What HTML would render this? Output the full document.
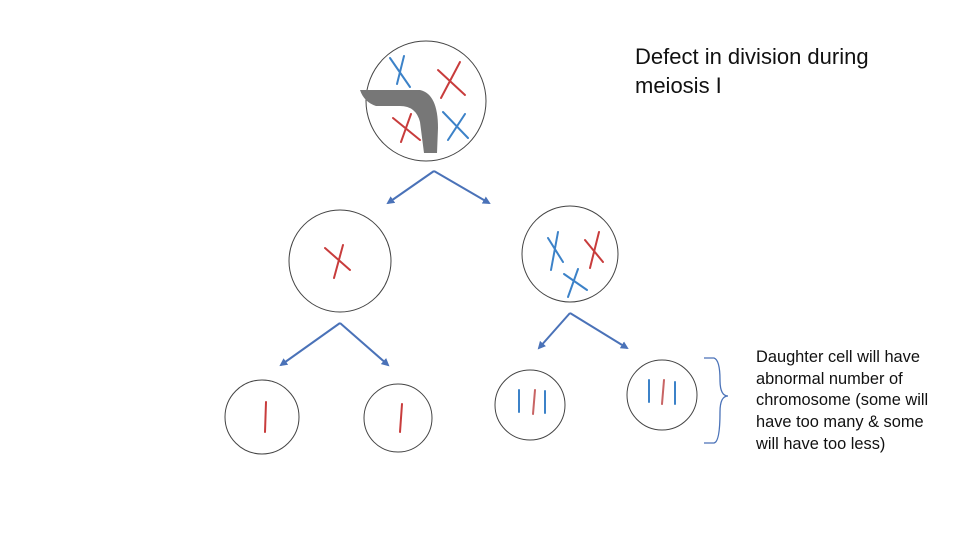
<!DOCTYPE html>
<html><head><style>
body{margin:0;background:#fff;}
.t{position:absolute;font-family:"Liberation Sans",sans-serif;color:#111;}
</style></head><body>
<div style="position:relative;width:960px;height:540px;overflow:hidden;">
<svg width="960" height="540" style="position:absolute;left:0;top:0">
<defs><marker id="a" markerWidth="8" markerHeight="8" refX="6" refY="4" orient="auto" markerUnits="userSpaceOnUse"><path d="M0,0 L8,4 L0,8 Z" fill="#4a72b8"/></marker></defs>
<g fill="none" stroke="#444" stroke-width="1">
<circle cx="426" cy="101" r="60"/>
<circle cx="340" cy="261" r="51"/>
<circle cx="570" cy="254" r="48"/>
<circle cx="262" cy="417" r="37"/>
<circle cx="398" cy="418" r="34"/>
<circle cx="530" cy="405" r="35"/>
<circle cx="662" cy="395" r="35"/>
</g>
<g stroke="#4a72b8" stroke-width="2" fill="none">
<path d="M434,171 L388,203" marker-end="url(#a)"/>
<path d="M434,171 L489,203" marker-end="url(#a)"/>
<path d="M340,323 L281,365" marker-end="url(#a)"/>
<path d="M340,323 L388,365" marker-end="url(#a)"/>
<path d="M570,313 L539,348" marker-end="url(#a)"/>
<path d="M570,313 L627,348" marker-end="url(#a)"/>
</g>
<g stroke-width="2" fill="none" stroke-linecap="round">
<path d="M390,58 L410,87 M404,56 L397,84" stroke="#3c82c8"/>
<path d="M438,70 L465,95 M460,62 L441,98" stroke="#c83c3c"/>
<path d="M393,118 L420,140 M411,114 L401,142" stroke="#c83c3c"/>
<path d="M443,112 L468,138 M465,114 L448,140" stroke="#3c82c8"/>
<path d="M325,248 L350,270 M343,245 L334,278" stroke="#c83c3c"/>
<path d="M548,238 L563,262 M558,232 L551,270" stroke="#3c82c8"/>
<path d="M585,240 L603,262 M599,232 L590,268" stroke="#c83c3c"/>
<path d="M564,274 L587,290 M578,269 L568,297" stroke="#3c82c8"/>
<path d="M266,402 L265,432" stroke="#c83c3c"/>
<path d="M402,404 L400,432" stroke="#c83c3c"/>
<path d="M519,390 L519,412 M545,391 L545,413" stroke="#3c82c8"/>
<path d="M535,390 L533,414" stroke="#c86464"/>
<path d="M649,380 L649,402 M675,382 L675,404" stroke="#3c82c8"/>
<path d="M664,380 L662,404" stroke="#c86464"/>
</g>
<path d="M360,90 L420,90 Q438,94 438,128 L437,153 L424,153 L420,122 Q416,106 400,106 L376,106 Q364,102 360,90 Z" fill="#777"/>
<path d="M704,358 L714,358 Q720,360 720,380 Q720,396 728,396 Q720,396 720,412 Q720,442 714,443 L704,443" fill="none" stroke="#4a72b8" stroke-width="1.3"/>
</svg>
<div class="t" style="left:635px;top:42px;font-size:22px;line-height:29px;">Defect in division during<br>meiosis I</div>
<div class="t" style="left:756px;top:347px;font-size:16.4px;line-height:21.7px;">Daughter cell will have<br>abnormal number of<br>chromosome (some will<br>have too many &amp; some<br>will have too less)</div>
</div>
</body></html>
